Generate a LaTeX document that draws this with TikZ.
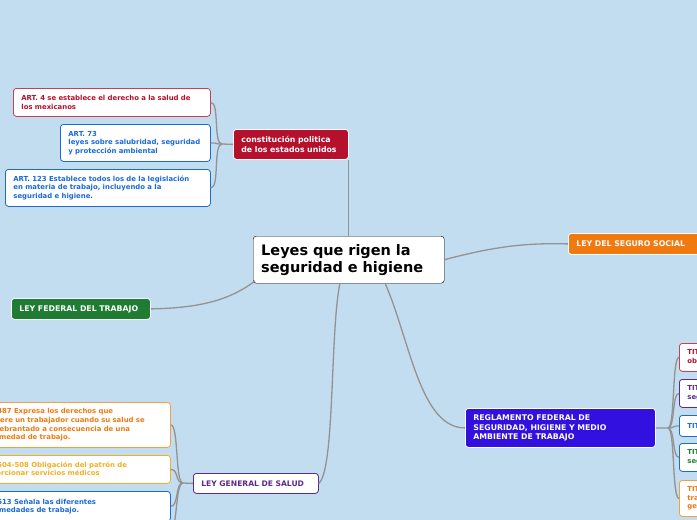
\documentclass[tikz,border=0pt]{standalone}
\usepackage{fontspec}
\setmainfont{DejaVu Sans}
\begin{document}
\begin{tikzpicture}[x=1pt,y=-1pt,
  bx/.style={draw,rounded corners=3pt,fill=white,line width=0.8pt,anchor=north west,align=left,inner ysep=0pt,inner xsep=8pt,font=\fontsize{6.9}{8.6}\selectfont\bfseries},
  tp/.style={draw=white,rounded corners=3pt,line width=0.8pt,anchor=north west,align=left,inner ysep=0pt,inner xsep=8pt,text=white,font=\fontsize{7.8}{9.5}\selectfont\bfseries},
  ln/.style={draw=gray!85,line width=1.3pt}]
\definecolor{bg}{HTML}{C2DDF0}
\definecolor{crim}{HTML}{B5102C}
\definecolor{blu}{HTML}{1B6AD6}
\definecolor{org}{HTML}{F07A10}
\definecolor{grn}{HTML}{1E7D32}
\definecolor{pur}{HTML}{5A2A8C}
\definecolor{yel}{HTML}{F2B022}
\definecolor{ind}{HTML}{3210E0}
\definecolor{lorg}{HTML}{F5A040}
\fill[bg] (0,0) rectangle (697,520);
\clip (0,0) rectangle (697,520);
% central
\node[draw=black,fill=white,rounded corners=3pt,anchor=north west,minimum width=191pt,minimum height=47pt,text width=175pt,inner xsep=8pt,align=left,font=\fontsize{14.5}{17}\selectfont\bfseries] (c) at (253,236) {Leyes que rigen la\\seguridad e higiene};
% constitucion
\node[tp,fill=crim,minimum width=115pt,minimum height=30pt,text width=99pt] (con) at (233,129) {constitución politica\\de los estados unidos};
\node[bx,draw=crim!80,text=crim,minimum width=197pt,minimum height=28pt,text width=181pt] (a4) at (13,88) {ART. 4 se establece el derecho a la salud de\\los mexicanos};
\node[bx,draw=blu,text=blu,minimum width=150pt,minimum height=37pt,text width=134pt] (a73) at (60,124) {ART. 73\\leyes sobre salubridad, seguridad\\y protección ambiental};
\node[bx,draw=blu,text=blu,minimum width=205pt,minimum height=37pt,text width=189pt] (a123) at (5,169) {ART. 123 Establece todos los de la legislación\\en materia de trabajo, incluyendo a la\\seguridad e higiene.};
% seguro social
\node[tp,fill=org,minimum width=132pt,minimum height=21pt,text width=116pt] (ss) at (568,233) {LEY DEL SEGURO SOCIAL};
% federal trabajo
\node[tp,fill=grn,minimum width=139pt,minimum height=21pt,text width=123pt] (lft) at (11,298) {LEY FEDERAL DEL TRABAJO};
% general salud
\node[bx,draw=pur,text=pur,minimum width=125pt,minimum height=20pt,text width=109pt,font=\fontsize{7.6}{9}\selectfont\bfseries] (lgs) at (193,473) {LEY GENERAL DE SALUD};
\node[bx,draw=lorg,text=org,minimum width=200pt,minimum height=45pt,text width=184pt] (a487) at (-30,402) {ART. 487 Expresa los derechos que\\adquiere un trabajador cuando su salud se\\ve quebrantado a consecuencia de una\\enfermedad de trabajo.};
\node[bx,draw=yel,text=yel,minimum width=200pt,minimum height=28pt,text width=184pt] (a504) at (-30,455) {ART. 504-508 Obligación del  patrón de\\proporcionar servicios médicos};
\node[bx,draw=blu,text=blu,minimum width=200pt,minimum height=30pt,text width=184pt] (a513) at (-30,491) {ART. 513 Señala las diferentes\\enfermedades de trabajo.};
% reglamento
\node[tp,fill=ind,minimum width=190pt,minimum height=39pt,text width=174pt] (reg) at (465,408) {REGLAMENTO FEDERAL DE\\SEGURIDAD, HIGIENE Y MEDIO\\AMBIENTE DE TRABAJO};
\node[bx,draw=crim!80,text=crim,minimum width=120pt,minimum height=28pt,text width=104pt] (t1) at (679,343) {TITULO PRIMERO\\obligaciones};
\node[bx,draw=pur,text=pur,minimum width=120pt,minimum height=28pt,text width=104pt] (t2) at (679,379) {TITULO SEGUNDO\\seguridad};
\node[bx,draw=blu,text=blu,minimum width=120pt,minimum height=21pt,text width=104pt] (t3) at (679,415) {TITULO TERCERO};
\node[bx,draw=blu,text=grn,minimum width=120pt,minimum height=28pt,text width=104pt] (t4) at (679,443) {TITULO CUARTO\\seguridad};
\node[bx,draw=lorg,text=org,minimum width=120pt,minimum height=36pt,text width=104pt] (t5) at (679,480) {TITULO QUINTO\\trabajo\\general};
% connectors
\draw[ln] (c.north -| con.south east) -- (con.south east);
\draw[ln] (c.east) .. controls (500,245) and (530,243) .. (ss.west);
\draw[ln] (255,281) .. controls (230,300) and (200,308) .. (lft.east);
\draw[ln] (340,283) .. controls (330,330) and (335,470) .. (lgs.east);
\draw[ln] (385,283) .. controls (410,340) and (420,428) .. (reg.west);
\coordinate (k1) at (222,144);
\draw[ln] (con.west) -- (k1);
\foreach \n in {a4,a73,a123} \draw[ln] (k1) .. controls +(-9,0) and +(9,0) .. (\n.east);
\coordinate (k2) at (183,483);
\draw[ln] (lgs.west) -- (k2);
\coordinate (k2e) at (170,530);
\foreach \n in {a487,a504,a513,k2e} \draw[ln] (k2) .. controls +(-8,0) and +(8,0) .. (\n.east);
\coordinate (k3) at (668,428);
\draw[ln] (reg.east) -- (k3);
\foreach \n in {t1,t2,t3,t4,t5} \draw[ln] (k3) .. controls +(7,0) and +(-7,0) .. (\n.west);
\end{tikzpicture}
\end{document}
